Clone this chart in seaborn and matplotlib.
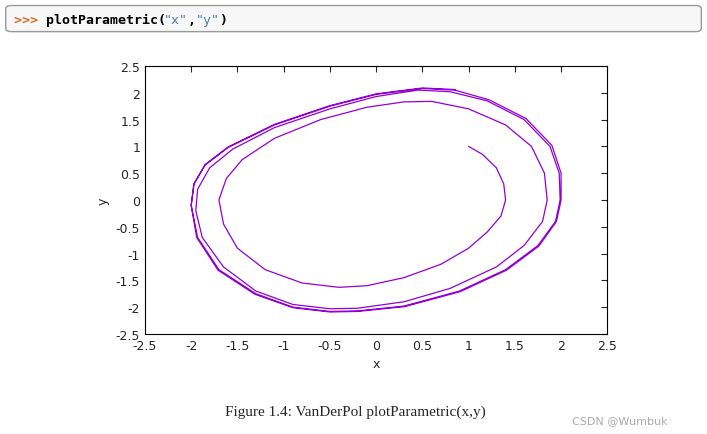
import matplotlib
matplotlib.use("Agg")
import matplotlib.pyplot as plt
import seaborn as sns
import pandas as pd
from matplotlib.patches import FancyBboxPatch

### TRAJECTORY POINTS ###
xs = [1.0, 1.15, 1.3, 1.38, 1.4, 1.35, 1.2, 1.0, 0.7, 0.3, -0.1, -0.4, -0.8, -1.2, -1.5, -1.65, -1.7,
      -1.62, -1.45, -1.1, -0.6, -0.1, 0.3, 0.6, 1.0, 1.4, 1.68, 1.82, 1.85, 1.8, 1.6, 1.3, 0.8, 0.3,
      -0.2, -0.5, -0.9, -1.3, -1.65, -1.88, -1.95, -1.93, -1.8, -1.55, -1.1, -0.5, 0.0, 0.45, 0.8,
      1.2, 1.6, 1.88, 1.98, 1.99, 1.94, 1.75, 1.4, 0.9, 0.3, -0.2, -0.5, -0.9, -1.3, -1.7, -1.93,
      -2.0, -1.97, -1.85, -1.6, -1.1, -0.5, 0.0, 0.5, 0.85, 1.22, 1.62, 1.9, 2.0, 2.0, 1.95, 1.76,
      1.41, 0.91, 0.31, -0.2, -0.5, -0.9, -1.31, -1.71, -1.94, -2.0, -1.97, -1.85, -1.6, -1.1, -0.5,
      0.0, 0.5, 0.86]
ys = [1.0, 0.85, 0.6, 0.3, 0.0, -0.3, -0.6, -0.9, -1.2, -1.45, -1.6, -1.63, -1.55, -1.3, -0.9, -0.45, 0.0,
      0.4, 0.75, 1.15, 1.5, 1.73, 1.83, 1.84, 1.7, 1.4, 1.0, 0.5, 0.0, -0.4, -0.85, -1.25, -1.65, -1.9,
      -2.02, -2.03, -1.95, -1.7, -1.25, -0.7, -0.2, 0.2, 0.6, 0.95, 1.35, 1.7, 1.93, 2.05, 2.02,
      1.85, 1.5, 1.0, 0.5, 0.0, -0.4, -0.85, -1.3, -1.7, -1.98, -2.07, -2.08, -2.0, -1.75, -1.3, -0.7,
      -0.1, 0.3, 0.65, 0.98, 1.4, 1.75, 1.97, 2.08, 2.05, 1.87, 1.52, 1.02, 0.5, 0.0, -0.4, -0.86,
      -1.31, -1.71, -1.99, -2.08, -2.09, -2.01, -1.76, -1.31, -0.7, -0.1, 0.3, 0.66, 0.99, 1.41, 1.76,
      1.98, 2.09, 2.06]
ticks = [-2.5, -2, -1.5, -1, -0.5, 0, 0.5, 1, 1.5, 2, 2.5]

df = pd.DataFrame({"x": xs, "y": ys})

sns.set_style("white")
fig = plt.figure(figsize=(7.07, 4.35), dpi=100)

### CODE BOX ###
fig.patches.append(FancyBboxPatch((0.008, 0.925), 0.984, 0.06, boxstyle="round,pad=0,rounding_size=0.008",
                                  transform=fig.transFigure, fc="#f7f7f7", ec="#999999", lw=1))
pieces = [(">>> ", "#d2691e", "bold"), ("plotParametric(", "black", "bold"), ('"x"', "#4a7bb5", "normal"),
          (",", "black", "bold"), ('"y"', "#4a7bb5", "normal"), (")", "black", "bold")]
cw = 7.9 / 707  # monospace char width in figure fraction
pos = 14 / 707
for txt, col, wt in pieces:
    fig.text(pos, 0.953, txt, color=col, family="DejaVu Sans Mono", weight=wt, fontsize=9.5, va="center")
    pos += cw * len(txt)

### PLOT ###
ax = fig.add_axes([0.205, 0.230, 0.654, 0.616])
sns.lineplot(data=df, x="x", y="y", sort=False, estimator=None, color="#9400d3", lw=0.9, ax=ax)
ax.set_xlim(-2.5, 2.5)
ax.set_ylim(-2.5, 2.5)
ax.set_xticks(ticks)
ax.set_yticks(ticks)
ax.set_xticklabels([f"{t:g}" for t in ticks])
ax.set_yticklabels([f"{t:g}" for t in ticks])
ax.tick_params(direction="in", top=True, right=True, labelsize=9, length=4, width=0.8)
for s in ax.spines.values():
    s.set_color("black")
    s.set_linewidth(0.8)
ax.set_xlabel("x", fontsize=9)
ax.set_ylabel("y", fontsize=9)

fig.text(0.502, 0.053, "Figure 1.4: VanDerPol plotParametric(x,y)", ha="center", va="center",
         family="Liberation Serif", fontsize=11)
fig.text(0.877, 0.032, "CSDN @Wumbuk", ha="center", va="center", color="#aaaaaa", fontsize=8)

fig.savefig("out.png", dpi=100)
